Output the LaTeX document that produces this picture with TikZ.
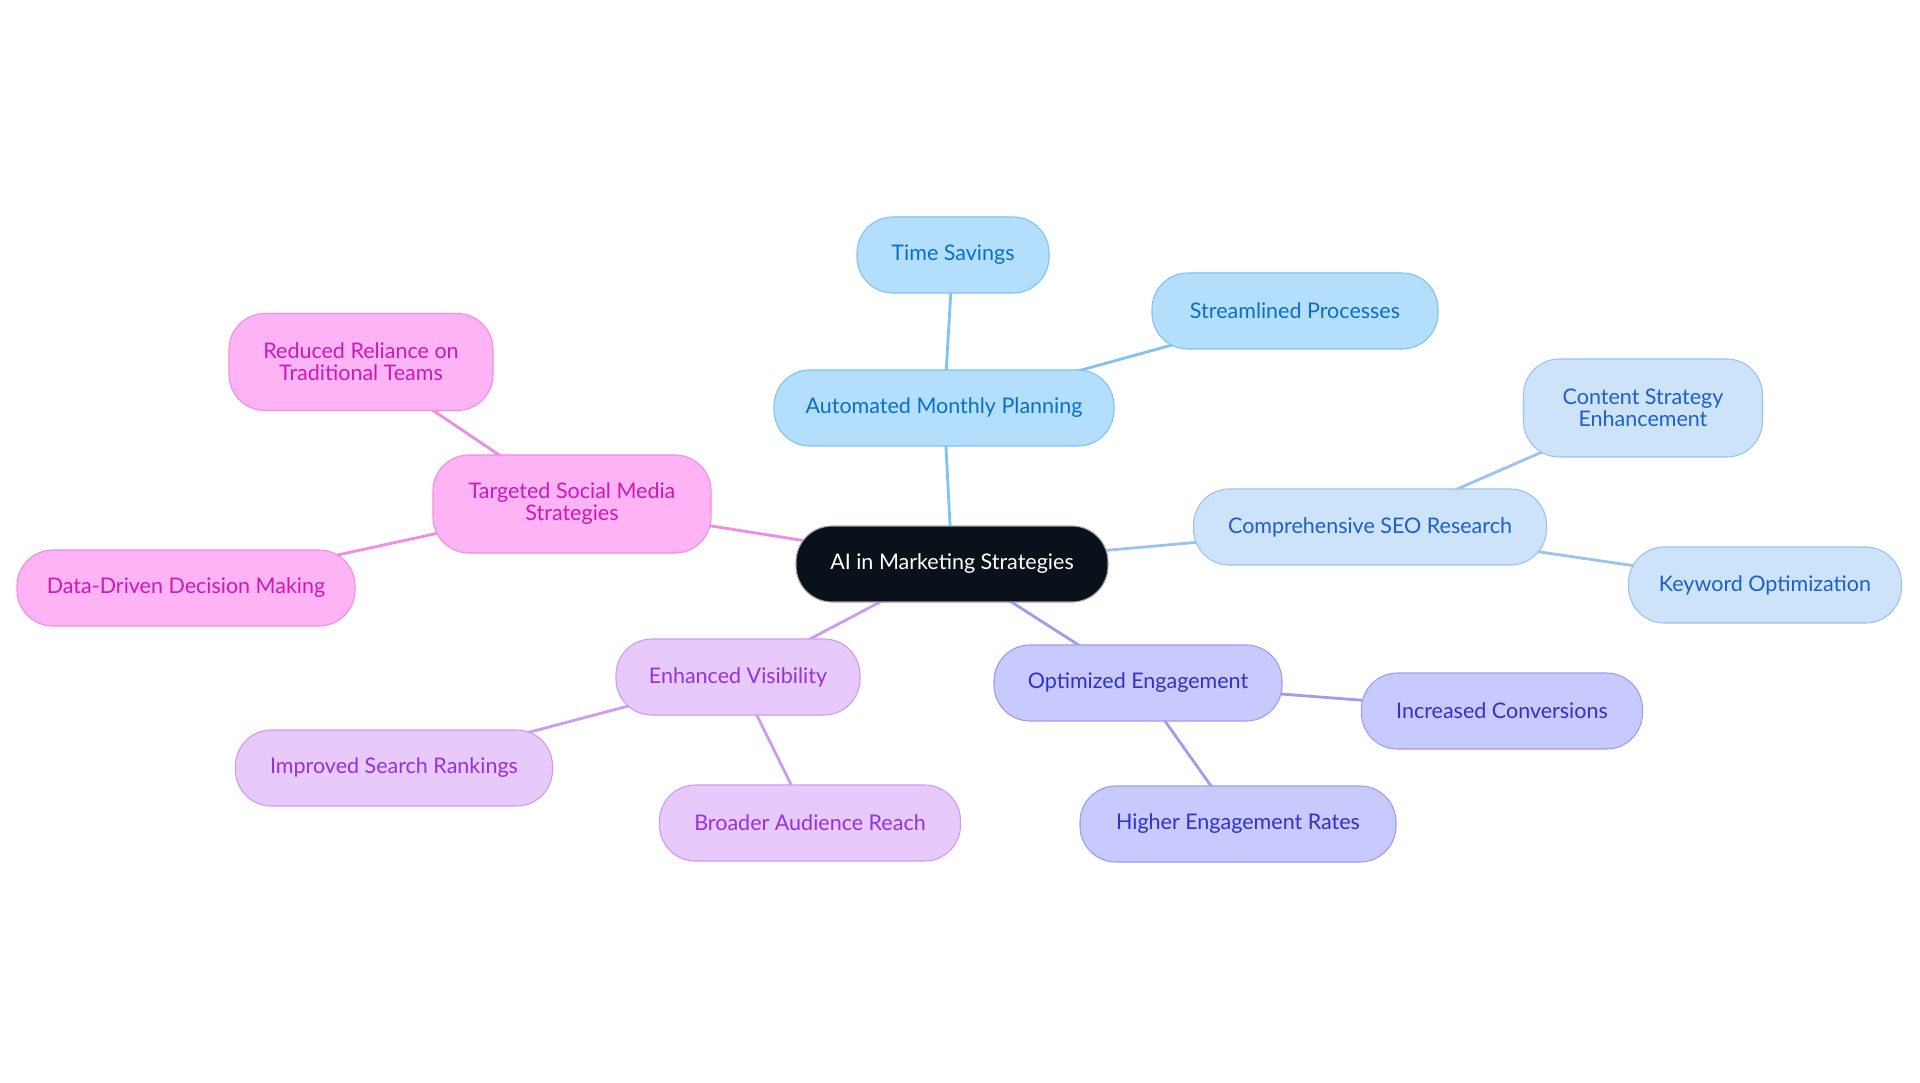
\documentclass[tikz,border=0pt]{standalone}
\usepackage{fontspec}
\setmainfont{Lato}
\usetikzlibrary{backgrounds}
\definecolor{rootfill}{HTML}{0B111A}
\definecolor{afill}{HTML}{B3DFFD}\definecolor{aline}{HTML}{80C3F2}\definecolor{atext}{HTML}{0B6FC4}
\definecolor{bfill}{HTML}{CCE3FA}\definecolor{bline}{HTML}{9CC2EF}\definecolor{btext}{HTML}{1E5FC8}
\definecolor{cfill}{HTML}{C8C9FC}\definecolor{cline}{HTML}{9C9DF1}\definecolor{ctext}{HTML}{3232C8}
\definecolor{dfill}{HTML}{E7C9FC}\definecolor{dline}{HTML}{CE9BF1}\definecolor{dtext}{HTML}{9732D9}
\definecolor{efill}{HTML}{FDB3F4}\definecolor{eline}{HTML}{F08DE3}\definecolor{etext}{HTML}{C91BB7}
\tikzset{
  box/.style={rounded corners=36pt, inner sep=0pt, line width=1.1pt, align=center,
    minimum height=76pt, font=\fontsize{21.5}{22}\selectfont},
  rootbox/.style={box, fill=rootfill, draw=gray!70, text=white},
  abox/.style={box, fill=afill, draw=aline, text=atext},
  bbox/.style={box, fill=bfill, draw=bline, text=btext},
  cbox/.style={box, fill=cfill, draw=cline, text=ctext},
  dbox/.style={box, fill=dfill, draw=dline, text=dtext},
  ebox/.style={box, fill=efill, draw=eline, text=etext},
  link/.style={line width=2.8pt},
}
\begin{document}
\begin{tikzpicture}[x=1pt,y=-1pt]
\useasboundingbox (0,0) rectangle (1920,1083);
\node[rootbox, minimum width=312pt] (root) at (952,564) {AI in Marketing Strategies};
% blue group
\node[abox, minimum width=340pt] (amp) at (944,408) {Automated Monthly Planning};
\node[abox, minimum width=192pt] (time) at (953,255) {Time Savings};
\node[abox, minimum width=286pt] (stream) at (1295,311) {Streamlined Processes};
% seo group
\node[bbox, minimum width=353pt] (seo) at (1370,527) {Comprehensive SEO Research};
\node[bbox, minimum width=239pt, minimum height=98pt] (content) at (1643,408) {Content Strategy\\Enhancement};
\node[bbox, minimum width=273pt] (keyword) at (1765,585) {Keyword Optimization};
% engagement group
\node[cbox, minimum width=288pt] (opt) at (1138,683) {Optimized Engagement};
\node[cbox, minimum width=281pt] (conv) at (1502,711) {Increased Conversions};
\node[cbox, minimum width=316pt] (higher) at (1238,824) {Higher Engagement Rates};
% visibility group
\node[dbox, minimum width=244pt] (vis) at (738,677) {Enhanced Visibility};
\node[dbox, minimum width=317pt] (rank) at (394,768) {Improved Search Rankings};
\node[dbox, minimum width=301pt] (reach) at (810,823) {Broader Audience Reach};
% social group
\node[ebox, minimum width=278pt, minimum height=98pt] (social) at (572,504) {Targeted Social Media\\Strategies};
\node[ebox, minimum width=264pt, minimum height=97pt] (reduced) at (361,362) {Reduced Reliance on\\Traditional Teams};
\node[ebox, minimum width=338pt] (data) at (186,588) {Data-Driven Decision Making};
\begin{pgfonlayer}{background}
\fill[white] (0,0) rectangle (1920,1083);
\draw[link, aline] (root.center) -- (amp.center);
\draw[link, aline] (amp.center) -- (time.center);
\draw[link, aline] (amp.center) -- (stream.center);
\draw[link, bline] (root.center) -- (seo.center);
\draw[link, bline] (seo.center) -- (content.center);
\draw[link, bline] (seo.center) -- (keyword.center);
\draw[link, cline] (root.center) -- (opt.center);
\draw[link, cline] (opt.center) -- (conv.center);
\draw[link, cline] (opt.center) -- (higher.center);
\draw[link, dline] (root.center) -- (vis.center);
\draw[link, dline] (vis.center) -- (rank.center);
\draw[link, dline] (vis.center) -- (reach.center);
\draw[link, eline] (root.center) -- (social.center);
\draw[link, eline] (social.center) -- (reduced.center);
\draw[link, eline] (social.center) -- (data.center);
\end{pgfonlayer}
\end{tikzpicture}
\end{document}
